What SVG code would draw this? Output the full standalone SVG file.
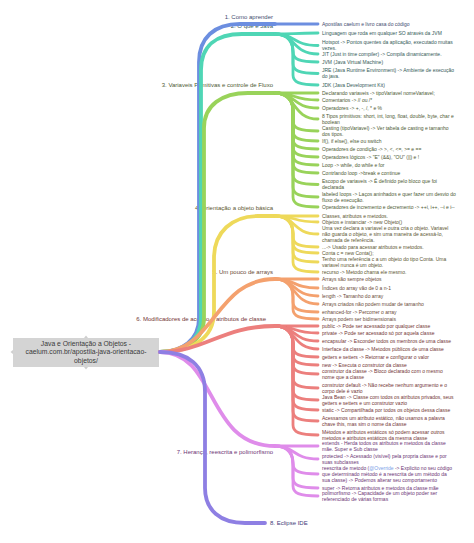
<svg xmlns="http://www.w3.org/2000/svg" width="474" height="543" viewBox="0 0 474 543">
<style>
text{font-family:"Liberation Sans",Arial,sans-serif}
.lb{font-size:6px}
.ch{font-size:5px}
.rt{font-size:6.8px;fill:#3a3a3a;text-anchor:middle}
.e{text-anchor:end}
.br{fill:none;stroke-linecap:round;stroke-width:3.8}
.sb{fill:none;stroke-linecap:round;stroke-width:2.8}
.s1{stroke:#6c8ee0}.s2{stroke:#4fd6b5}.s3{stroke:#99d35a}.s4{stroke:#eed95a}
.s5{stroke:#f4a16e}.s6{stroke:#ec7f7d}.s7{stroke:#df8cea}.s8{stroke:#8e7fe3}
.t1{fill:#3f4d70}.t2{fill:#355a58}.t3{fill:#4d5a35}.t4{fill:#5c5632}
.t5{fill:#6a4a38}.t6{fill:#733535}.t7{fill:#6d3575}.t8{fill:#443d78}
.ov{fill:#7aa0e8}
</style>
<g id="root">
<rect x="13" y="338" width="146" height="29" fill="#d4d4d4"/>
<path d="M86,335.5 L88,338 L84,338 Z M86,369.5 L88,367 L84,367 Z M10.5,352 L13,350 L13,354 Z" fill="#cfcfcf"/>
<text class="rt" x="86" y="345.9">Java e Orientação a Objetos -</text>
<text class="rt" x="86" y="354.4">caelum.com.br/apostila-java-orientacao-</text>
<text class="rt" x="86" y="362.9">objetos/</text>
</g>
<g id="b1"><text class="lb e t1" x="273" y="19.1">1. Como aprender</text></g>
<g id="b1-1"><text class="ch t1" x="322" y="25.7">Apostilas caelum e livro casa do código</text></g>
<g id="b2"><text class="lb e t2" x="273" y="28.1">2. O que é Java</text></g>
<g id="b2-1"><text class="ch t2" x="322" y="34.7">Linguagem que roda em qualquer SO através da JVM</text></g>
<g id="b2-2"><text class="ch t2" x="322" y="44.2">Hotspot -&gt; Pontos quentes da aplicação, executado muitas<tspan x="322" y="50.2">vezes.</tspan></text></g>
<g id="b2-3"><text class="ch t2" x="322" y="55.7">JIT (Just in time compiler) -&gt; Compila dinamicamente.</text></g>
<g id="b2-4"><text class="ch t2" x="322" y="63.7">JVM (Java Virtual Machine)</text></g>
<g id="b2-5"><text class="ch t2" x="322" y="72.2">JRE (Java Runtime Environment) -&gt; Ambiente de execução<tspan x="322" y="78.2">do java.</tspan></text></g>
<g id="b2-6"><text class="ch t2" x="322" y="86.7">JDK (Java Development Kit)</text></g>
<g id="b3"><text class="lb e t3" x="273" y="87.1">3. Variaveis Primitivas e controle de Fluxo</text></g>
<g id="b3-1"><text class="ch t3" x="322" y="94.7">Declarando variaveis -&gt; tipoVariavel nomeVariavel;</text></g>
<g id="b3-2"><text class="ch t3" x="322" y="101.7">Comentarios -&gt; // ou /*</text></g>
<g id="b3-3"><text class="ch t3" x="322" y="109.7">Operadores -&gt; +, -, /, * e %</text></g>
<g id="b3-4"><text class="ch t3" x="322" y="117.7">8 Tipos primitivos: short, int, long, float, double, byte, char e<tspan x="322" y="123.7">boolean</tspan></text></g>
<g id="b3-5"><text class="ch t3" x="322" y="129.7">Casting (tipoVariavel) -&gt; Ver tabela de casting e tamanho<tspan x="322" y="135.7">dos tipos.</tspan></text></g>
<g id="b3-6"><text class="ch t3" x="322" y="142.7">If(), if else(), else ou switch</text></g>
<g id="b3-7"><text class="ch t3" x="322" y="150.7">Operadores de condição -&gt; &gt;, &lt;, &lt;=, &gt;= e ==</text></g>
<g id="b3-8"><text class="ch t3" x="322" y="158.7">Operadores lógicos -&gt; "E" (&amp;&amp;), "OU" (||) e !</text></g>
<g id="b3-9"><text class="ch t3" x="322" y="166.7">Loop -&gt; while, do while e for</text></g>
<g id="b3-10"><text class="ch t3" x="322" y="174.7">Contrlando loop -&gt;break e continue</text></g>
<g id="b3-11"><text class="ch t3" x="322" y="183.2">Escopo de variaveis -&gt; É definido pelo bloco que foi<tspan x="322" y="189.2">declarada</tspan></text></g>
<g id="b3-12"><text class="ch t3" x="322" y="195.7">labeled loops -&gt; Laços aninhados e quer fazer um desvio do<tspan x="322" y="201.7">fluxo de execução.</tspan></text></g>
<g id="b3-13"><text class="ch t3" x="322" y="208.7">Operadores de incremento e decremento -&gt; ++i, i++, --i e i--</text></g>
<g id="b4"><text class="lb e t4" x="273" y="210.1">4. Orientação a objeto básica</text></g>
<g id="b4-1"><text class="ch t4" x="322" y="217.7">Classes, atributos e metodos.</text></g>
<g id="b4-2"><text class="ch t4" x="322" y="223.7">Objetos e instanciar -&gt; new Objeto()</text></g>
<g id="b4-3"><text class="ch t4" x="322" y="229.7">Uma vez declara a variavel e outra cria o objeto. Variavel<tspan x="322" y="235.7">não guarda o objeto, e sim uma maneira de acessá-lo,</tspan><tspan x="322" y="241.7">chamada de referência.</tspan></text></g>
<g id="b4-4"><text class="ch t4" x="322" y="248.7">...-&gt; Usado para acessar atributos e metodos.</text></g>
<g id="b4-5"><text class="ch t4" x="322" y="254.7">Conta c = new Conta();</text></g>
<g id="b4-6"><text class="ch t4" x="322" y="260.7">Tenho uma referência c a um objeto do tipo Conta. Uma<tspan x="322" y="266.7">variavel nunca é um objeto.</tspan></text></g>
<g id="b4-7"><text class="ch t4" x="322" y="273.7">recurso -&gt; Metodo chama ele mesmo.</text></g>
<g id="b5"><text class="lb e t5" x="273" y="274.1">5. Um pouco de arrays</text></g>
<g id="b5-1"><text class="ch t5" x="322" y="280.7">Arrays são sempre objetos</text></g>
<g id="b5-2"><text class="ch t5" x="322" y="289.7">Índices do array vão de 0 a n-1</text></g>
<g id="b5-3"><text class="ch t5" x="322" y="297.7">length -&gt; Tamanho do array</text></g>
<g id="b5-4"><text class="ch t5" x="322" y="305.7">Arrays criados não podem mudar de tamanho</text></g>
<g id="b5-5"><text class="ch t5" x="322" y="313.7">enhanced-for -&gt; Percorrer o array</text></g>
<g id="b5-6"><text class="ch t5" x="322" y="320.7">Arrays podem ser bidimensionais</text></g>
<g id="b6"><text class="lb e t6" x="266" y="321.1">6. Modificadores de acesso e atributos de classe</text></g>
<g id="b6-1"><text class="ch t6" x="322" y="327.7">public -&gt; Pode ser acessado por qualquer classe</text></g>
<g id="b6-2"><text class="ch t6" x="322" y="334.7">private -&gt; Pode ser acessado só por aquela classe</text></g>
<g id="b6-3"><text class="ch t6" x="322" y="342.7">encapsular -&gt; Esconder todos os membros de uma classe</text></g>
<g id="b6-4"><text class="ch t6" x="322" y="350.7">Interface da classe -&gt; Metodos públicos de uma classe</text></g>
<g id="b6-5"><text class="ch t6" x="322" y="358.7">getters e setters -&gt; Retornar e configurar o valor</text></g>
<g id="b6-6"><text class="ch t6" x="322" y="366.7">new -&gt; Executa o construtor da classe</text></g>
<g id="b6-7"><text class="ch t6" x="322" y="372.7">construtor da classe -&gt; Bloco declarado com o mesmo<tspan x="322" y="378.7">nome que a classe</tspan></text></g>
<g id="b6-8"><text class="ch t6" x="322" y="386.7">construtor default -&gt; Não recebe nenhum argumento e o<tspan x="322" y="392.7">corpo dele é vazio</tspan></text></g>
<g id="b6-9"><text class="ch t6" x="322" y="398.7">Java Bean -&gt; Classe com todos os atributos privados, seus<tspan x="322" y="404.7">getters e setters e um construtor vazio</tspan></text></g>
<g id="b6-10"><text class="ch t6" x="322" y="411.7">static -&gt; Compartilhada por todos os objetos dessa classe</text></g>
<g id="b6-11"><text class="ch t6" x="322" y="419.7">Acessamos um atributo estático, não usamos a palavra<tspan x="322" y="425.7">chave this, mas sim o nome da classe</tspan></text></g>
<g id="b6-12"><text class="ch t6" x="322" y="433.7">Métodos e atributos estáticos só podem acessar outros<tspan x="322" y="439.7">metodos e atributos estáticos da mesma classe</tspan></text></g>
<g id="b7"><text class="lb e t7" x="273" y="454.1">7. Herança, reescrita e polimorfismo</text></g>
<g id="b7-1"><text class="ch t7" x="322" y="444.7">extends - Herda todos os atributos e metodos da classe<tspan x="322" y="450.7">mãe. Super e Sub classe</tspan></text></g>
<g id="b7-2"><text class="ch t7" x="322" y="457.7">protected -&gt; Acessado (visível) pela propria classe e por<tspan x="322" y="463.7">suas subclasses</tspan></text></g>
<g id="b7-3"><text class="ch t7" x="322" y="469.7">reescrita de metodo (<tspan class="ov">@Override</tspan> -&gt; Explicito no seu código<tspan x="322" y="475.7">que determinado método é a reescrita de um método da</tspan><tspan x="322" y="481.7">sua classe) -&gt; Podemos alterar seu comportamento</tspan></text></g>
<g id="b7-4"><text class="ch t7" x="322" y="489.7">super -&gt; Retorna atributos e metodos da classe mãe</text></g>
<g id="b7-5"><text class="ch t7" x="322" y="494.9">polimorfismo -&gt; Capacidade de um objeto poder ser<tspan x="322" y="500.9">referenciado de várias formas</tspan></text></g>
<g id="b8"><text class="lb t8" x="270" y="525.1">8. Eclipse IDE</text></g>
<g id="connectors">
<path class="br s1" d="M160,352 C182,352 199,340 199,318 L199,62 C199,38 214,24 240,24 L275,24"/>
<path class="br s2" d="M160,352 C184,352 201,340 201,318 L201,70 C201,46 216,34 242,34 L275,34"/>
<path class="br s3" d="M160,352 C186,352 204,340 204,318 L204,128 C204,105 222,93 248,93 L275,93"/>
<path class="br s4" d="M160,352 C192,352 214,338 214,312 L214,258 C214,232 232,216 258,216 L275,216"/>
<path class="br s5" d="M160,352 C215,352 215,279 275,279"/>
<path class="br s6" d="M160,352 C205,352 222,326 275,326"/>
<path class="br s7" d="M160,352 C218,352 205,446 275,446"/>
<path class="br s8" d="M160,352 C188,352 205,365 205,392 L205,488 C205,510 220,523 245,523 L265,523"/>
<g class="sb s1"><path d="M275,24 L318,24"/></g>
<g class="sb s2">
<path d="M275,34 C296,34 292,33 318,33"/>
<path d="M275,34 C296,34 292,45.5 318,45.5"/>
<path d="M275,34 C296,34 292,54 318,54"/>
<path d="M275,34 C289,34 293,42 293,52 C293,59 299,62 318,62"/>
<path d="M275,34 C289,34 293,42 293,52 L293,63.5 C293,70.5 299,73.5 318,73.5"/>
<path d="M275,34 C289,34 293,42 293,52 L293,75 C293,82 299,85 318,85"/>
</g>
<g class="sb s3">
<path d="M275,93 L318,93"/>
<path d="M275,93 C296,93 292,100 318,100"/>
<path d="M275,93 C296,93 292,108 318,108"/>
<path d="M275,93 C296,93 292,119 318,119"/>
<path d="M275,93 C289,93 293,101 293,111 L293,121 C293,128 299,131 318,131"/>
<path d="M275,93 C289,93 293,101 293,111 L293,131 C293,138 299,141 318,141"/>
<path d="M275,93 C289,93 293,101 293,111 L293,139 C293,146 299,149 318,149"/>
<path d="M275,93 C289,93 293,101 293,111 L293,147 C293,154 299,157 318,157"/>
<path d="M275,93 C289,93 293,101 293,111 L293,155 C293,162 299,165 318,165"/>
<path d="M275,93 C289,93 293,101 293,111 L293,163 C293,170 299,173 318,173"/>
<path d="M275,93 C289,93 293,101 293,111 L293,174.5 C293,181.5 299,184.5 318,184.5"/>
<path d="M275,93 C289,93 293,101 293,111 L293,187 C293,194 299,197 318,197"/>
<path d="M275,93 C289,93 293,101 293,111 L293,197 C293,204 299,207 318,207"/>
</g>
<g class="sb s4">
<path d="M275,216 L318,216"/>
<path d="M275,216 C296,216 292,222 318,222"/>
<path d="M275,216 C296,216 292,234 318,234"/>
<path d="M275,216 C289,216 293,224 293,234 L293,237 C293,244 299,247 318,247"/>
<path d="M275,216 C289,216 293,224 293,234 L293,243 C293,250 299,253 318,253"/>
<path d="M275,216 C289,216 293,224 293,234 L293,252 C293,259 299,262 318,262"/>
<path d="M275,216 C289,216 293,224 293,234 L293,262 C293,269 299,272 318,272"/>
</g>
<g class="sb s5">
<path d="M275,279 L318,279"/>
<path d="M275,279 C296,279 292,288 318,288"/>
<path d="M275,279 C296,279 292,296 318,296"/>
<path d="M275,279 C296,279 292,304 318,304"/>
<path d="M275,279 C289,279 293,287 293,297 L293,302 C293,309 299,312 318,312"/>
<path d="M275,279 C289,279 293,287 293,297 L293,309 C293,316 299,319 318,319"/>
</g>
<g class="sb s6">
<path d="M275,326 L318,326"/>
<path d="M275,326 C296,326 292,333 318,333"/>
<path d="M275,326 C296,326 292,341 318,341"/>
<path d="M275,326 C296,326 292,349 318,349"/>
<path d="M275,326 C289,326 293,334 293,344 L293,347 C293,354 299,357 318,357"/>
<path d="M275,326 C289,326 293,334 293,344 L293,355 C293,362 299,365 318,365"/>
<path d="M275,326 C289,326 293,334 293,344 L293,364 C293,371 299,374 318,374"/>
<path d="M275,326 C289,326 293,334 293,344 L293,378 C293,385 299,388 318,388"/>
<path d="M275,326 C289,326 293,334 293,344 L293,390 C293,397 299,400 318,400"/>
<path d="M275,326 C289,326 293,334 293,344 L293,400 C293,407 299,410 318,410"/>
<path d="M275,326 C289,326 293,334 293,344 L293,411 C293,418 299,421 318,421"/>
<path d="M275,326 C289,326 293,334 293,344 L293,425 C293,432 299,435 318,435"/>
</g>
<g class="sb s7">
<path d="M275,446 L318,446"/>
<path d="M275,446 C296,446 292,459 318,459"/>
<path d="M275,446 C289,446 293,454 293,464 C293,471 299,474 318,474"/>
<path d="M275,446 C289,446 293,454 293,464 L293,478 C293,485 299,488 318,488"/>
<path d="M275,446 C289,446 293,454 293,464 L293,486 C293,493 299,496 318,496"/>
</g>
</g>
</svg>
